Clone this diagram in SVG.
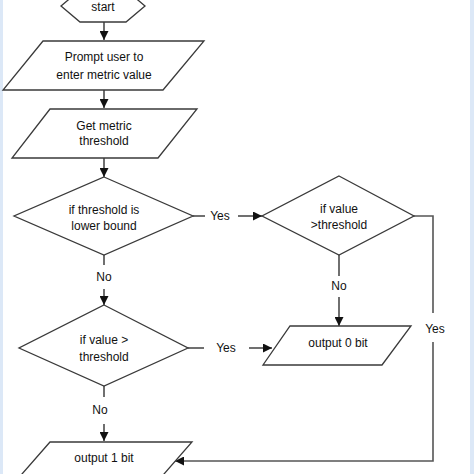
<svg xmlns="http://www.w3.org/2000/svg" width="474" height="474" viewBox="0 0 474 474">
<defs>
<style>
.shape{fill:#fff;stroke:#3a3a3a;stroke-width:1.3}
.line{fill:none;stroke:#222;stroke-width:1.3}
.wire{fill:none;stroke:#555;stroke-width:1.6}
text{font-family:"Liberation Sans","DejaVu Sans",sans-serif;font-size:12px;fill:#111;text-anchor:middle}
</style>
<marker id="arr" viewBox="0 0 10 10" refX="10" refY="5" markerWidth="9" markerHeight="9" orient="auto" markerUnits="userSpaceOnUse">
<path d="M0,0 L10,5 L0,10 z" fill="#111"/>
</marker>
</defs>
<rect x="0" y="0" width="474" height="474" fill="#fff"/>
<rect x="0" y="0" width="3" height="474" fill="#dce8f7"/>
<rect x="470" y="0" width="4" height="474" fill="#dce8f7"/>

<g id="connectors">
<line class="line" x1="104" y1="22" x2="104" y2="40" marker-end="url(#arr)"/>
<line class="line" x1="104" y1="90" x2="104" y2="108" marker-end="url(#arr)"/>
<line class="line" x1="104" y1="158" x2="104" y2="177" marker-end="url(#arr)"/>
<line class="line" x1="193" y1="216" x2="205" y2="216"/>
<line class="line" x1="238" y1="216" x2="262" y2="216" marker-end="url(#arr)"/>
<line class="line" x1="104" y1="255" x2="104" y2="265"/>
<line class="line" x1="104" y1="289" x2="104" y2="305" marker-end="url(#arr)"/>
<line class="line" x1="339" y1="255" x2="339" y2="276"/>
<line class="line" x1="339" y1="297" x2="339" y2="326" marker-end="url(#arr)"/>
<line class="line" x1="188" y1="348" x2="204" y2="348"/>
<line class="line" x1="249" y1="348" x2="272" y2="348" marker-end="url(#arr)"/>
<line class="line" x1="104" y1="386" x2="104" y2="397"/>
<line class="line" x1="104" y1="424" x2="104" y2="441" marker-end="url(#arr)"/>
<polyline class="wire" points="414,216 433,216 433,313"/>
<polyline class="wire" points="433,342 433,461 175,461" marker-end="url(#arr)"/>
<text x="220" y="220">Yes</text>
<text x="104" y="281">No</text>
<text x="339" y="290">No</text>
<text x="226" y="352">Yes</text>
<text x="435" y="333">Yes</text>
<text x="100" y="414">No</text>
</g>

<g id="start">
<polygon class="shape" points="61,6 80,22 126,22 145,6 126,-10 80,-10"/>
<text x="103" y="11">start</text>
</g>
<g id="prompt">
<polygon class="shape" points="43,41 204,41 163,90 3,90"/>
<text x="104" y="61">Prompt user to</text>
<text x="104" y="79">enter metric value</text>
</g>
<g id="get-threshold">
<polygon class="shape" points="50,109 197,109 158,158 12,158"/>
<text x="104" y="130">Get metric</text>
<text x="104" y="145">threshold</text>
</g>
<g id="decision-lower">
<polygon class="shape" points="104,177 193,216 104,255 14,216"/>
<text x="104" y="214">if threshold is</text>
<text x="104" y="230">lower bound</text>
</g>
<g id="decision-value-gt">
<polygon class="shape" points="339,176 414,216 339,255 262,216"/>
<text x="339" y="213">if value</text>
<text x="339" y="229">&gt;threshold</text>
</g>
<g id="output0">
<polygon class="shape" points="290,326 411,326 382,365 263,365"/>
<text x="338" y="347">output 0 bit</text>
</g>
<g id="decision-value">
<polygon class="shape" points="104,305 188,348 104,386 19,348"/>
<text x="104" y="344">if value &gt;</text>
<text x="104" y="361">threshold</text>
</g>
<g id="output1">
<polygon class="shape" points="50,442 192,442 150,490 8,490"/>
<text x="104" y="462">output 1 bit</text>
</g>
</svg>
